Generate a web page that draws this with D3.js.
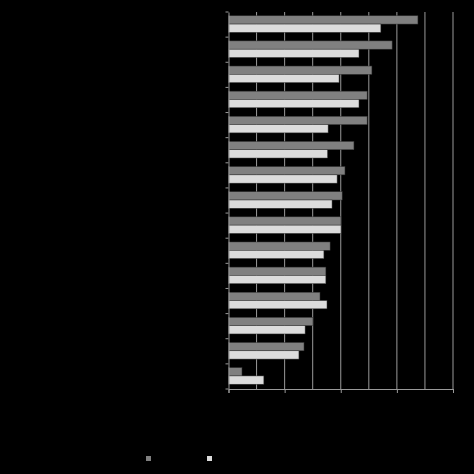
<!DOCTYPE html><html><head><script src="https://cdn.jsdelivr.net/npm/d3@7"></script>
<style>body{margin:0;background:#000}</style></head><body><script>
const categories=["Item 1","Item 2","Item 3","Item 4","Item 5","Item 6","Item 7","Item 8","Item 9","Item 10","Item 11","Item 12","Item 13","Item 14","Item 15"];
const series1=[67.5,58.3,51.1,49.4,49.4,44.7,41.5,40.5,40.1,36.2,34.7,32.6,30.1,26.9,4.8];
const series2=[54.3,46.5,39.4,46.5,35.5,35.3,38.7,36.9,40.1,34.0,34.7,35.1,27.3,25.1,12.6];
const seriesNames=["Series 1","Series 2"];
const ticks=[0,20,40,60,80];
const colors=["#808080","#dcdcdc"];
const W=474,H=474,m={l:228.5,r:21,t:12,b:85};
const svg=d3.select("body").append("svg").attr("width",W).attr("height",H).style("background","#000");
const x=d3.scaleLinear().domain([0,80]).range([m.l,W-m.r]);
const y=d3.scaleBand().domain(categories).range([m.t,H-m.b]);
svg.append("g").selectAll("line").data(d3.range(10,81,10)).join("line")
 .attr("x1",d=>x(d)).attr("x2",d=>x(d)).attr("y1",m.t).attr("y2",H-m.b).attr("stroke","#9a9a9a");
const bh=y.bandwidth()*0.33;
[series1,series2].forEach((s,i)=>{
 svg.append("g").selectAll("rect").data(s).join("rect")
  .attr("x",x(0)).attr("y",(d,j)=>y(categories[j])+y.bandwidth()*0.15+i*bh)
  .attr("width",d=>x(d)-x(0)).attr("height",bh).attr("fill",colors[i]).attr("stroke","#333").attr("stroke-width",0.5);
});
const xa=svg.append("g").attr("transform",`translate(0,${H-m.b})`).call(d3.axisBottom(x).tickValues(ticks).tickSize(4));
xa.selectAll("line,path").attr("stroke","#9a9a9a");xa.selectAll("text").attr("fill","#000");
const ya=svg.append("g").attr("transform",`translate(${m.l},0)`).call(d3.axisLeft(y).tickSize(0));
ya.select("path").attr("stroke","#9a9a9a");ya.selectAll("text").attr("fill","#000");
svg.append("g").selectAll("line").data(d3.range(categories.length+1)).join("line")
 .attr("x1",m.l-3).attr("x2",m.l).attr("y1",d=>m.t+d*y.step()).attr("y2",d=>m.t+d*y.step()).attr("stroke","#9a9a9a");
const lg=svg.append("g");
seriesNames.forEach((n,i)=>{
 lg.append("rect").attr("x",146+i*61).attr("y",456).attr("width",5).attr("height",5).attr("fill",colors[i]);
 lg.append("text").attr("x",154+i*61).attr("y",461).attr("font-size",9).attr("font-family","Arial").attr("fill","#000").text(n);
});
</script></body></html>
